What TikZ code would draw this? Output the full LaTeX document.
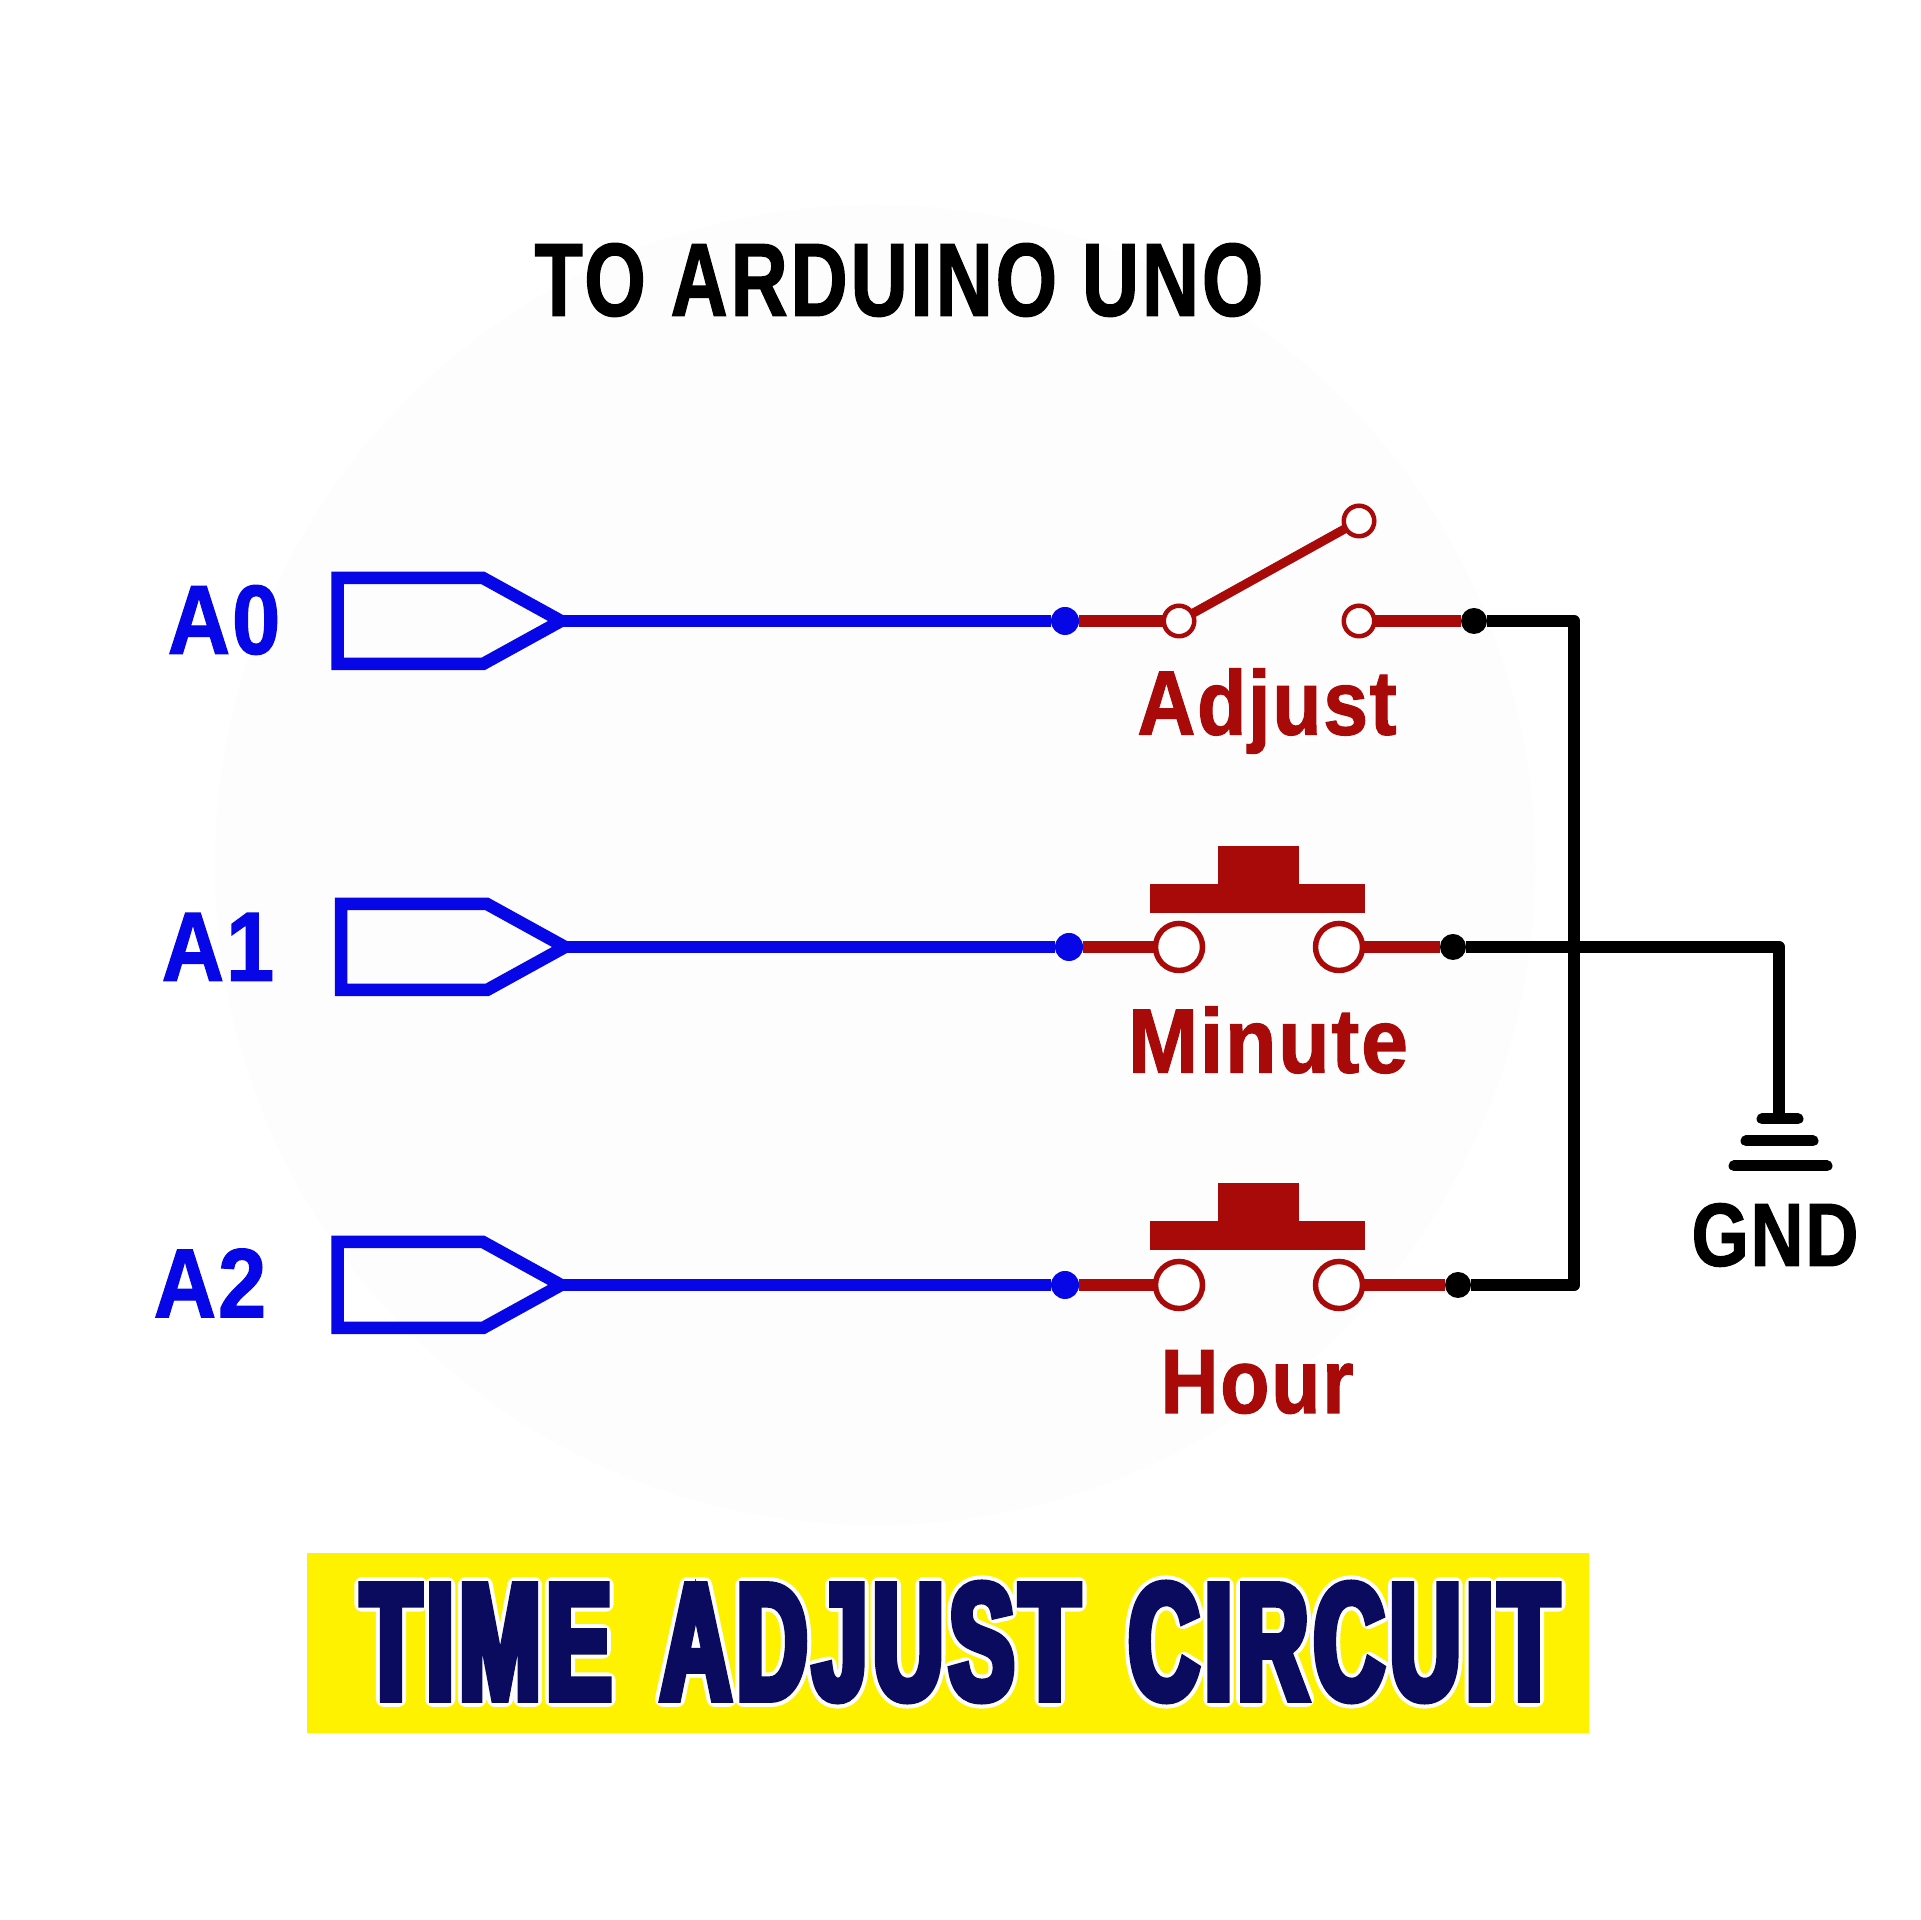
\documentclass[tikz,border=0pt]{standalone}
\usepackage{fontspec}
\newfontfamily\labelfont[FakeStretch=0.88,FakeBold=1.3,LetterSpace=2]{Liberation Sans Bold}
\newfontfamily\minutefont[FakeStretch=0.92,FakeBold=1.3,LetterSpace=2]{Liberation Sans Bold}
\newfontfamily\gndfont[FakeStretch=0.82,FakeBold=1.3,LetterSpace=2]{Liberation Sans Bold}
\newfontfamily\headfont[FakeStretch=0.76,FakeBold=1.4,LetterSpace=3]{Liberation Sans Bold}
\newfontfamily\bannerfont[FakeStretch=0.59,LetterSpace=3.5,WordSpace=1.5]{Liberation Sans Bold}
\definecolor{portblue}{HTML}{0606E6}
\definecolor{swred}{HTML}{A80A0A}
\definecolor{bannernavy}{HTML}{0A0A5E}
\definecolor{banneryellow}{HTML}{FFF200}
\definecolor{paleglow}{HTML}{FDFDFE}
\tikzset{
  port/.style={draw=portblue, line width=0.125cm, line join=miter},
  bluewire/.style={draw=portblue, line width=0.12cm},
  redwire/.style={draw=swred, line width=0.115cm},
  lever/.style={draw=swred, line width=0.09cm},
  gndwire/.style={draw=black, line width=0.125cm, line join=round},
  gndbar/.style={draw=black, line width=0.11cm, line cap=round},
  bluedot/.style={circle, fill=portblue, inner sep=0pt, outer sep=0pt, minimum size=0.28cm},
  blackdot/.style={circle, fill=black, inner sep=0pt, outer sep=0pt, minimum size=0.26cm},
  smallpin/.style={circle, draw=swred, fill=white, line width=0.045cm, inner sep=0pt, outer sep=0pt, minimum size=0.305cm},
  bigpin/.style={circle, draw=swred, fill=white, line width=0.055cm, inner sep=0pt, outer sep=0pt, minimum size=0.47cm},
  swbar/.style={rectangle, fill=swred, inner sep=0pt, minimum width=2.15cm, minimum height=0.29cm},
  swcap/.style={rectangle, fill=swred, inner sep=0pt, minimum width=0.81cm, minimum height=0.38cm},
  pinname/.style={text=portblue, inner sep=0pt, font=\labelfont\fontsize{28}{28}\selectfont},
  swname/.style={text=swred, inner sep=0pt, font=\labelfont\fontsize{26}{26}\selectfont},
}
\newcommand{\bannertext}{TIME ADJUST CIRCUIT}
\begin{document}
\begin{tikzpicture}
    \useasboundingbox (0,0) rectangle (19.2,19.2);
    \fill[white] (0,0) rectangle (19.2,19.2);
    \fill[paleglow] (8.75,10.55) circle (6.6);

    \node (head) at (8.99,16.4) [inner sep=0pt, font=\headfont\fontsize{29.5}{29.5}\selectfont] {TO ARDUINO UNO};

    \coordinate (a0nw) at (3.375,13.42);
    \coordinate (a0ne) at (4.83,13.42);
    \coordinate (a0tip) at (5.61,12.99);
    \coordinate (a0se) at (4.83,12.56);
    \coordinate (a0sw) at (3.375,12.56);
    \coordinate (a1nw) at (3.41,10.16);
    \coordinate (a1ne) at (4.87,10.16);
    \coordinate (a1tip) at (5.65,9.73);
    \coordinate (a1se) at (4.87,9.3);
    \coordinate (a1sw) at (3.41,9.3);
    \coordinate (a2nw) at (3.375,6.78);
    \coordinate (a2ne) at (4.83,6.78);
    \coordinate (a2tip) at (5.61,6.35);
    \coordinate (a2se) at (4.83,5.92);
    \coordinate (a2sw) at (3.375,5.92);

    \node[pinname] (a0) at (2.24,13.0) {A0};
    \node[pinname] (a1) at (2.18,9.73) {A1};
    \node[pinname] (a2) at (2.10,6.37) {A2};

    \node[bluedot] (d0) at (10.65,12.99) {};
    \node[bluedot] (d1) at (10.69,9.73) {};
    \node[bluedot] (d2) at (10.65,6.35) {};

    \draw[port] (a0nw) -- (a0ne) -- (a0tip) -- (a0se) -- (a0sw) -- cycle;
    \draw[port] (a1nw) -- (a1ne) -- (a1tip) -- (a1se) -- (a1sw) -- cycle;
    \draw[port] (a2nw) -- (a2ne) -- (a2tip) -- (a2se) -- (a2sw) -- cycle;
    \draw[bluewire] (a0tip) -- (d0); \draw[bluewire] (a1tip) -- (d1); \draw[bluewire] (a2tip) -- (d2);

    \node[blackdot] (k0) at (14.74,12.99) {};
    \node[blackdot] (k1) at (14.53,9.73) {};
    \node[blackdot] (k2) at (14.58,6.35) {};

    \node[smallpin] (p0a) at (11.79,12.99) {};
    \node[smallpin] (p0b) at (13.59,12.99) {};
    \node[smallpin] (p0c) at (13.59,13.99) {};
    \draw[redwire] (d0) -- (p0a); \draw[redwire] (p0b) -- (k0);
    \draw[lever] (p0a) -- (p0c);

    \node[bigpin] (p1a) at (11.79,9.73) {};
    \node[bigpin] (p1b) at (13.39,9.73) {};
    \draw[redwire] (d1) -- (p1a); \draw[redwire] (p1b) -- (k1);
    \node[swcap] (cap1) at (12.585,10.545) {};
    \node[swbar] (bar1) at (12.575,10.215) {};

    \node[bigpin] (p2a) at (11.79,6.35) {};
    \node[bigpin] (p2b) at (13.39,6.35) {};
    \draw[redwire] (d2) -- (p2a); \draw[redwire] (p2b) -- (k2);
    \node[swcap] (cap2) at (12.585,7.175) {};
    \node[swbar] (bar2) at (12.575,6.845) {};

    \node[swname] (adjust) at (12.67,12.09) {Adjust};
    \node[swname, font=\minutefont\fontsize{26}{26}\selectfont] (minute) at (12.68,8.8) {Minute};
    \node[swname] (hour) at (12.57,5.38) {Hour};

    \coordinate (rail0) at (15.74,12.99);
    \coordinate (rail2) at (15.74,6.35);
    \coordinate (gndtop) at (17.79,9.73);
    \coordinate (gndmid) at (17.79,8.01);
    \coordinate (gnda) at (17.62,8.01);
    \coordinate (gndb) at (17.98,8.01);
    \coordinate (gndc) at (17.46,7.79);
    \coordinate (gndd) at (18.13,7.79);
    \coordinate (gnde) at (17.34,7.54);
    \coordinate (gndf) at (18.27,7.54);

    \draw[gndwire] (k0) -- (rail0) -- (rail2) -- (k2);
    \draw[gndwire] (k1) -- (gndtop) -- (gndmid);
    \draw[gndbar] (gnda) -- (gndb);
    \draw[gndbar] (gndc) -- (gndd);
    \draw[gndbar] (gnde) -- (gndf);

    \node[inner sep=0pt, font=\gndfont\fontsize{25.5}{25.5}\selectfont] (gnd) at (17.75,6.85) {GND};

    \fill[banneryellow] (3.065,1.87) rectangle (15.89,3.67);
    \node[inner sep=0pt, font=\bannerfont\fontsize{47}{47}\selectfont] (banner) at (9.6,2.78) {\rlap{\special{pdf:code 2 Tr 1 j 4.6 w 1 1 1 RG}\bannertext\special{pdf:code 0 Tr}}\special{pdf:code 2 Tr 0 j 2.3 w 0.04 0.04 0.37 RG}\textcolor{bannernavy}{\bannertext}\special{pdf:code 0 Tr}};
\end{tikzpicture}
\end{document}
